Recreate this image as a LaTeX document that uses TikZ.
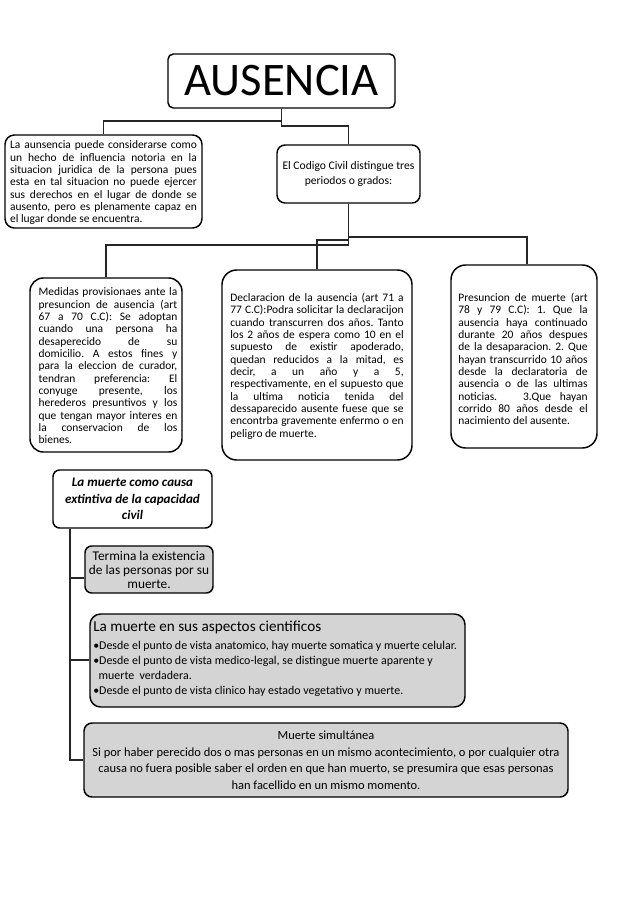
\documentclass[tikz,border=0pt]{standalone}
\usepackage{fontspec}
\setmainfont{Carlito}
\usetikzlibrary{fit}
\frenchspacing
\newcommand\jline[1]{\makebox[\hsize][s]{\frenchspacing\spaceskip=0pt\xspaceskip=0pt #1}\\}
\begin{document}
\begin{tikzpicture}[x=0.75pt,y=-0.75pt,
  every node/.append style={execute at begin node={\frenchspacing\spaceskip=0pt\xspaceskip=0pt}},
  frame/.style={draw=black, line width=1.1pt, rounded corners=#1, inner sep=0pt},
  frame/.default=5pt,
  shaded/.style={fill=black!17},
  link/.style={draw=black!85, line width=0.8pt},
  body/.style={inner sep=0pt, align=left, font=\fontsize{8.6}{9.25}\selectfont,
    execute at begin node={\parindent=0pt}},
]
\fill[white] (0,0) rectangle (638,903);
\useasboundingbox (0,0) rectangle (638,903);

% ---------- top ----------
\node[frame=4pt, fit={(168,54) (395,108)}] (aus) {};
\node[inner sep=0pt, font=\fontsize{35}{40}\selectfont] (ausT) at (aus.center) {AUSENCIA};

\node[frame=7pt, fit={(5,135) (202,228)}] (left) {};
\node[body, text width=140pt] (leftT) at (103.5,183) {%
\jline{La aunsencia puede considerarse como}
\jline{un hecho de influencia notoria en la}
\jline{situacion juridica de la persona pues}
\jline{esta en tal situacion no puede ejercer}
\jline{sus derechos en el lugar de donde se}
\jline{ausento, pero es plenamente capaz en}
el lugar donde se encuentra.};

\node[frame=6pt, fit={(277,145) (420,203)}] (code) {};
\node[inner sep=0pt, align=center, font=\fontsize{8.7}{11.5}\selectfont] (codeT) at (code.center) {El Codigo Civil distingue tres\\periodos o grados:};

% ---------- three periods ----------
\node[frame=10pt, fit={(30,278) (182,452)}] (med) {};
\node[body, text width=104pt] (medT) at (108,366) {%
\jline{Medidas provisionaes ante la}
\jline{presuncion de ausencia (art}
\jline{67 a 70 C.C): Se adoptan}
\jline{cuando una persona ha}
\jline{desaperecido de su}
\jline{domicilio. A estos fines y}
\jline{para la eleccion de curador,}
\jline{tendran preferencia: El}
\jline{conyuge presente, los}
\jline{herederos presuntivos y los}
\jline{que tengan mayor interes en}
\jline{la conservacion de los}
bienes.};

\node[frame=11pt, fit={(222,270) (412,460)}] (dec) {};
\node[body, text width=130pt] (decT) at (317,366) {%
\jline{Declaracion de la ausencia (art 71 a}
\jline{77 C.C):Podra solicitar la declaracijon}
\jline{cuando transcurren dos años. Tanto}
\jline{los 2 años de espera como 10 en el}
\jline{supuesto de existir apoderado,}
\jline{quedan reducidos a la mitad, es}
\jline{decir, a un año y a 5,}
\jline{respectivamente, en el supuesto que}
\jline{la ultima noticia tenida del}
\jline{dessaparecido ausente fuese que se}
\jline{encontrba gravemente enfermo o en}
peligro de muerte.};

\node[frame=11pt, fit={(451,265) (597,448)}] (pre) {};
\node[body, text width=97pt] (preT) at (523,359) {%
\jline{Presuncion de muerte (art}
\jline{78 y 79 C.C): 1. Que la}
\jline{ausencia haya continuado}
\jline{durante 20 años despues}
\jline{de la desaparacion. 2. Que}
\jline{hayan transcurrido 10 años}
\jline{desde la declaratoria de}
\jline{ausencia o de las ultimas}
\jline{noticias. \ \ 3.Que hayan}
\jline{corrido 80 años desde el}
nacimiento del ausente.};

% ---------- connectors top ----------
\draw[link] (aus.south) -- (aus.south |- 0,121) -| (left.north);
\draw[link] (aus.south) -- (aus.south |- 0,126) -| (code.north);
\draw[link] (code.south) |- (med.north |- 0,245) -- (med.north);
\draw[link] (code.south) |- (dec.north |- 0,240) -- (dec.north);
\draw[link] (code.south) |- (527,237) -- (pre.north -| 527,0);

% ---------- bottom part ----------
\node[frame=5pt, fit={(53,470) (212,528)}] (mue) {};
\node[inner sep=0pt, align=center, font=\fontsize{9.8}{12.4}\selectfont\bfseries\itshape] (mueT) at (mue.center) {La muerte como causa\\extintiva de la capacidad\\civil};

\node[frame=5pt, shaded, fit={(85,546) (213,593)}] (ter) {};
\node[inner sep=0pt, align=center, font=\fontsize{10}{10.8}\selectfont] (terT) at (149,570) {Termina la existencia\\de las personas por su\\muerte.};

\node[frame=8pt, shaded, fit={(90,614) (465,707)}] (asp) {};
\node[inner sep=0pt, anchor=west, font=\fontsize{11.4}{13}\selectfont] (aspH) at (93,627) {La muerte en sus aspectos cientificos};
\node[inner sep=0pt, anchor=north west, align=left, font=\fontsize{8.95}{11.25}\selectfont] (aspB) at (93,641) {%
•Desde el punto de vista anatomico, hay muerte somatica y muerte celular.\\
•Desde el punto de vista medico-legal, se distingue muerte aparente y\\
\hspace*{4pt}muerte\ \ verdadera.\\
•Desde el punto de vista clinico hay estado vegetativo y muerte.};

\node[frame=6pt, shaded, fit={(84,723) (568,797)}] (sim) {};
\node[inner sep=0pt, align=center, font=\fontsize{9.35}{12.4}\selectfont] (simT) at (sim.center) {Muerte simultánea\\
Si por haber perecido dos o mas personas en un mismo acontecimiento, o por cualquier otra\\
causa no fuera posible saber el orden en que han muerto, se presumira que esas personas\\
han facellido en un mismo momento.};

% ---------- trunk ----------
\coordinate (trunk) at (mue.south -| 70,0);
\coordinate (b1) at (70,578);
\coordinate (b2) at (70,660);
\draw[link] (trunk) |- (sim.west);
\draw[link] (b1) -- (b1 -| ter.west);
\draw[link] (b2) -- (b2 -| asp.west);
\end{tikzpicture}
\end{document}
